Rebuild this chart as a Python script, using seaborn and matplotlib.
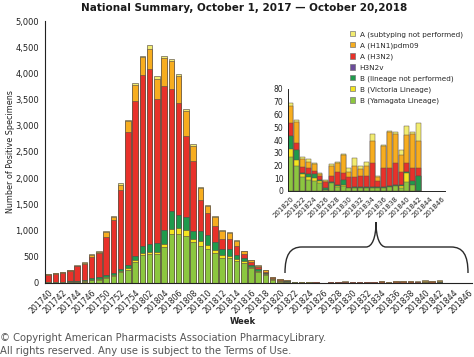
import numpy as np
import pandas as pd
import matplotlib
matplotlib.use("Agg")
import matplotlib.pyplot as plt
import seaborn as sns
from matplotlib.path import Path
from matplotlib.patches import PathPatch, Patch

# week categories on the axis (201740 .. 201846)
weeks = ["2017%02d" % w for w in range(40, 53)] + ["2018%02d" % w for w in range(1, 47)]
# labels as printed under the main chart (every second week)
main_ticklabels = ["201740", "201742", "201744", "201746", "201750", "201752", "201754",
                   "201802", "201804", "201806", "201808", "201810", "201812", "201814",
                   "201816", "201818", "201820", "201822", "201824", "201826", "201828",
                   "201830", "201832", "201834", "201836", "201838", "201840", "201842",
                   "201844", "201846"]
inset_weeks = weeks[32:]
inset_ticklabels = ["201820", "201822", "201824", "201826", "201828", "201830", "201832",
                    "201834", "201836", "201838", "201840", "201842", "201844", "201846"]

# positive specimens per week, 201740 .. 201842
b_yamagata = [10, 10, 12, 15, 20, 25, 50, 60, 90, 130, 210, 250, 400, 530, 560, 560, 680, 940,
              935, 900, 780, 700, 650, 565, 480, 470, 420, 390, 290, 210, 150, 65,
              27, 20, 11, 9, 8, 6, 1, 6, 3, 4, 2, 2, 2, 2, 2, 2, 2, 3, 4, 2, 7, 5, 0]
b_victoria = [2, 2, 3, 3, 5, 5, 10, 10, 15, 20, 20, 30, 30, 40, 40, 30, 60, 100,
              108, 110, 60, 110, 80, 65, 45, 45, 35, 30, 20, 20, 15, 8,
              6, 4, 2, 2, 2, 2, 0, 0, 1, 1, 0, 0, 0, 0, 0, 0, 0, 0, 0, 2, 7, 0, 0]
b_lineage_np = [10, 10, 10, 12, 15, 20, 30, 35, 50, 50, 40, 70, 90, 140, 150, 175, 270, 340,
                255, 245, 158, 188, 186, 159, 118, 140, 80, 60, 40, 30, 20, 10,
                10, 8, 1, 2, 3, 1, 1, 1, 1, 4, 0, 1, 1, 1, 1, 1, 1, 1, 1, 1, 1, 3, 12]
h3n2v = [0] * 55
a_h3n2 = [135, 155, 170, 200, 275, 320, 400, 460, 720, 1000, 1500, 2530, 2960, 3260, 3330, 2740,
          2755, 2316, 2131, 1550, 1336, 586, 414, 299, 197, 178, 171, 80, 45, 40, 30, 15,
          10, 6, 5, 5, 3, 3, 5, 5, 10, 5, 9, 8, 9, 9, 19, 5, 15, 14, 17, 10, 7, 10, 6]
a_h1n1 = [8, 8, 10, 12, 15, 20, 50, 35, 90, 55, 105, 210, 300, 340, 380, 385, 535, 540,
          520, 480, 282, 224, 134, 166, 146, 126, 94, 45, 35, 30, 25, 15,
          14, 16, 6, 5, 5, 1, 1, 8, 7, 14, 4, 9, 5, 8, 17, 3, 17, 28, 23, 13, 22, 27, 21]
a_not_subtyped = [5, 5, 5, 8, 10, 10, 20, 20, 25, 25, 25, 30, 30, 30, 80, 60, 40, 40,
                  40, 35, 30, 30, 25, 25, 25, 20, 20, 15, 10, 10, 10, 7,
                  2, 2, 2, 2, 1, 1, 1, 1, 1, 1, 3, 6, 3, 3, 6, 1, 1, 1, 1, 4, 7, 1, 14]

series_names = ["B (Yamagata Lineage)", "B (Victoria Lineage)", "B (lineage not performed)",
                "H3N2v", "A (H3N2)", "A (H1N1)pdm09", "A (subtyping not performed)"]
series_values = [b_yamagata, b_victoria, b_lineage_np, h3n2v, a_h3n2, a_h1n1, a_not_subtyped]
series_colors = ["#8cc63f", "#f3e41f", "#1f9a4c", "#6b4c9a", "#e8312a", "#f7ad1f", "#f2ec70"]

W, H = 474, 357
edge = "#5b5048"

sns.set_style("white")
plt.rcParams["font.family"] = ["DejaVu Sans"]

fig = plt.figure(figsize=(W / 100, H / 100), dpi=100)


def fx(x):
    return x / W


def fy(y):
    return 1 - y / H


def stacked(ax, cats, values, width, lw):
    n = len(cats)
    cum = np.cumsum(np.array(values, dtype=float), axis=0)
    for i in reversed(range(len(values))):
        col = np.full(n, np.nan)
        col[:cum.shape[1]] = cum[i]
        df = pd.DataFrame({"week": cats, "n": col})
        sns.barplot(data=df, x="week", y="n", order=cats, color=series_colors[i],
                    saturation=1, width=width, edgecolor=edge, linewidth=lw,
                    errorbar=None, ax=ax)


# main chart
ax = fig.add_axes([fx(44.5), fy(283), fx(472) - fx(44.5), fy(21) - fy(283)])
stacked(ax, weeks, series_values, 0.76, 0.45)
ax.set_ylim(0, 5000)
ax.set_xlim(-0.5, len(weeks) - 0.5)
ax.set_yticks(np.arange(0, 5001, 500))
ax.set_yticklabels(["{:,}".format(v) for v in range(0, 5001, 500)], fontsize=6)
ax.set_xticks(np.arange(0, len(weeks), 2))
ax.set_xticklabels(main_ticklabels, rotation=45, ha="right", rotation_mode="anchor", fontsize=5.6)
ax.tick_params(axis="both", length=2.5, width=0.7, pad=1.5, colors="#222222")
ax.set_xlabel("")
ax.set_ylabel("")
sns.despine(ax=ax)
for s in ("left", "bottom"):
    ax.spines[s].set_color("#222222")
    ax.spines[s].set_linewidth(0.8)

# inset chart
ins = fig.add_axes([fx(288), fy(191), fx(444.6) - fx(288), fy(89) - fy(191)])
stacked(ins, inset_weeks, [v[32:] for v in series_values], 0.86, 0.35)
ins.set_ylim(0, 80)
ins.set_xlim(-0.5, len(inset_weeks) - 0.5)
ins.set_yticks(np.arange(0, 81, 10))
ins.set_yticklabels([str(v) for v in range(0, 81, 10)], fontsize=5.5)
ins.set_xticks(np.arange(0, len(inset_weeks), 2))
ins.set_xticklabels(inset_ticklabels, rotation=45, ha="right", rotation_mode="anchor", fontsize=5)
ins.tick_params(axis="both", length=2, width=0.6, pad=1.2, colors="#222222")
ins.set_xlabel("")
ins.set_ylabel("")
sns.despine(ax=ins)
for s in ("left", "bottom"):
    ins.spines[s].set_color("#222222")
    ins.spines[s].set_linewidth(0.7)

# curly brace linking the tail of the season to the inset
pts = [(285, 273), (285, 255), (290, 247), (302, 247),
       (366, 247),
       (372, 247), (376, 238), (376, 222),
       (376, 238), (380, 247), (386, 247),
       (451, 247),
       (463, 247), (468, 255), (468, 273)]
codes = [Path.MOVETO, Path.CURVE4, Path.CURVE4, Path.CURVE4,
         Path.LINETO,
         Path.CURVE4, Path.CURVE4, Path.CURVE4,
         Path.CURVE4, Path.CURVE4, Path.CURVE4,
         Path.LINETO,
         Path.CURVE4, Path.CURVE4, Path.CURVE4]
brace = Path([(fx(x), fy(y)) for x, y in pts], codes)
fig.add_artist(PathPatch(brace, transform=fig.transFigure, facecolor="none",
                         edgecolor="#2a2a2a", lw=1.0))

# legend
handles = [Patch(facecolor=series_colors[i], edgecolor="#777777", linewidth=0.5,
                 label=series_names[i]) for i in reversed(range(len(series_names)))]
fig.legend(handles=handles, loc="upper left", bbox_to_anchor=(fx(350), fy(31)),
           frameon=False, fontsize=5.2, handlelength=0.75, handleheight=0.75,
           handletextpad=0.6, labelspacing=0.62, borderaxespad=0, borderpad=0)

# texts
fig.text(fx(244), fy(8), "National Summary, October 1, 2017 \u2014 October 20,2018",
         ha="center", va="center", fontsize=7.5, fontweight="bold", color="#1a1a1a")
fig.text(fx(11), fy(152), "Number of Positive Specimens", rotation=90,
         ha="center", va="center", fontsize=5.8, color="#222222")
fig.text(fx(243), fy(322), "Week", ha="center", va="center", fontsize=6,
         fontweight="bold", color="#222222")
fig.text(0, fy(338), "\u00a9 Copyright American Pharmacists Association PharmacyLibrary.",
         ha="left", va="center", fontsize=7.2, color="#555555")
fig.text(0, fy(351), "All rights reserved. Any use is subject to the Terms of Use.",
         ha="left", va="center", fontsize=7.2, color="#555555")

fig.savefig("out.png", dpi=100)
